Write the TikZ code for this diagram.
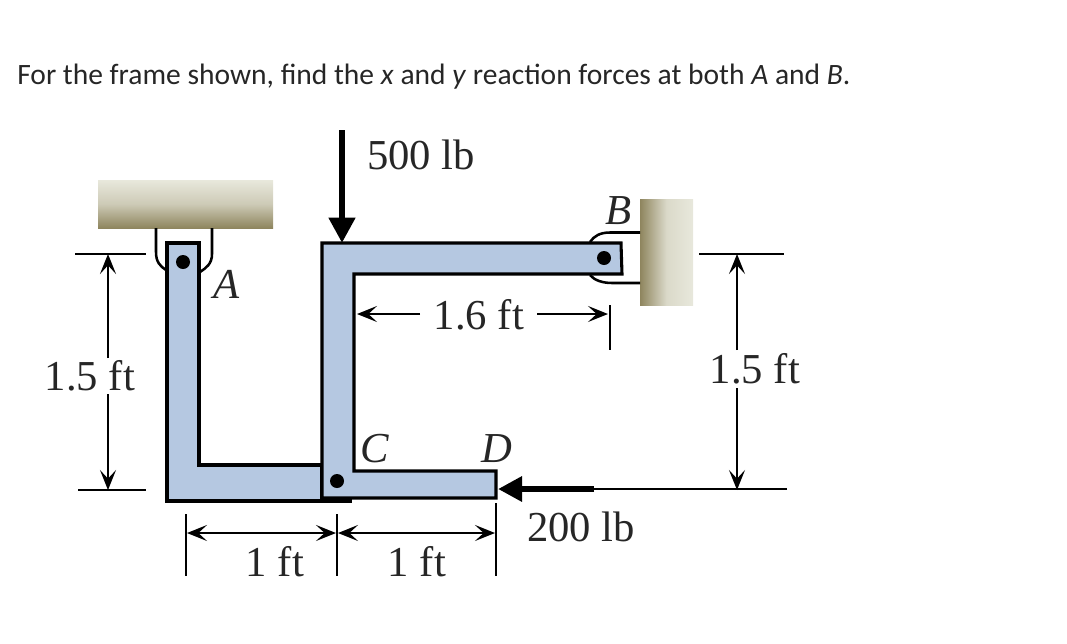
\documentclass[tikz,border=0pt]{standalone}
\usepackage{fontspec}
\setmainfont{Liberation Serif}
\newfontfamily\headfont{Carlito}
\usetikzlibrary{arrows.meta}
\definecolor{frameblue}{HTML}{B5C8E1}
\definecolor{wallpale}{HTML}{E8E8DC}
\definecolor{walldark}{HTML}{8E855E}
\tikzset{
  x=0.75pt,y=-0.75pt,
  member/.style={draw=black,line width=2.3pt,fill=frameblue,line join=miter},
  pin/.style={circle,fill=black,inner sep=0pt,minimum size=10.5pt},
  clevis/.style={line width=1.9pt},
  dimline/.style={line width=1.5pt},
  dimarrow/.style={line width=1.5pt,-{Stealth[length=15pt,width=12pt,inset=6.5pt]}},
  dimboth/.style={line width=1.5pt,{Stealth[length=15pt,width=12pt,inset=6.5pt]}-{Stealth[length=15pt,width=12pt,inset=6.5pt]}},
  label/.style={font=\fontsize{32}{32}\selectfont,inner sep=0pt,text=black!85},
  pointlabel/.style={font=\itshape\fontsize{32}{32}\selectfont,inner sep=0pt,text=black!85}
}
\begin{document}
\begin{tikzpicture}
\useasboundingbox (0,0) rectangle (1067,643);
\node[anchor=west,inner sep=0pt,font=\headfont\fontsize{22.15}{26}\selectfont,text=black!85] (title) at (17,77)
  {For the frame shown, find the \textit{x} and \textit{y} reaction forces at both \textit{A} and \textit{B}.};
% supports
\shade[top color=wallpale,bottom color=walldark,middle color=wallpale!70!walldark] (98,180) rectangle (273,228);
\shade[left color=walldark,right color=wallpale,middle color=wallpale!85!walldark] (640,199) rectangle (693,305);
% clevises
\draw[clevis] (156,228) -- (156,252) .. controls (156,262) and (160,266) .. (166,270);
\draw[clevis] (212,228) -- (212,254) .. controls (212,264) and (206,268) .. (200,272);
\draw[clevis] (640,232.5) -- (610,232.5) .. controls (600,232.5) and (594,236) .. (590,242);
\draw[clevis] (640,283) -- (612,283) .. controls (602,283) and (594,280) .. (590,275);
% left member
\draw[member] (167,243) -- (199,243) -- (199,465) -- (322,465) -- (322,501) -- (167,501) -- cycle;
% right member
\draw[line width=3pt] (322,500.5) -- (352,500.5);
\draw[member] (322,243) -- (621,243) -- (622,274) -- (354,274) -- (354,471) -- (496,471) -- (496,498) -- (322,498) -- cycle;
% pins
\node[pin] (pinA) at (183,262) {};
\node[pin] (pinB) at (604,258) {};
\node[pin] (pinC) at (337,481) {};
% point labels
\node[pointlabel] (lblA) at (227,284) {A};
\node[pointlabel] (lblB) at (619,211) {B};
\node[pointlabel] (lblC) at (375,449) {C};
\node[pointlabel] (lblD) at (497,449) {D};
% 500 lb load
\coordinate (loadTop) at (342,130);
\coordinate (loadTip) at (342,243);
\draw[line width=5.2pt,-{Triangle[length=19pt,width=19pt]}] (loadTop) -- (loadTip);
\node[label] (lbl500) at (421,155) {500 lb};
% 200 lb load
\coordinate (forceEnd) at (787,489);
\coordinate (forceThick) at (594,489);
\coordinate (forceTip) at (498,489);
\draw[line width=1.6pt] (forceEnd) -- (forceThick);
\draw[line width=5pt,-{Triangle[length=18pt,width=18pt]}] (forceThick) -- (forceTip);
\node[label] (lbl200) at (581,527) {200 lb};
% left 1.5 ft
\coordinate (lt1) at (75,254); \coordinate (lt2) at (146,254);
\coordinate (lb1) at (78,490); \coordinate (lb2) at (146,490);
\coordinate (la1) at (108,254); \coordinate (la2) at (108,490);
\coordinate (la3) at (108,358); \coordinate (la4) at (108,394);
\draw[dimline] (lt1) -- (lt2);
\draw[dimline] (lb1) -- (lb2);
\draw[dimarrow] (la3) -- (la1);
\draw[dimarrow] (la4) -- (la2);
\node[label] (lblLeft) at (90,376) {1.5 ft};
% right 1.5 ft
\coordinate (rt1) at (699,254); \coordinate (rt2) at (784,254);
\coordinate (ra1) at (737,254); \coordinate (ra2) at (737,490);
\coordinate (ra3) at (737,350); \coordinate (ra4) at (737,388);
\draw[dimline] (rt1) -- (rt2);
\draw[dimarrow] (ra3) -- (ra1);
\draw[dimarrow] (ra4) -- (ra2);
\node[label] (lblRight) at (755,369) {1.5 ft};
% 1.6 ft
\coordinate (t1) at (610,305); \coordinate (t2) at (610,350);
\coordinate (m1) at (420,314); \coordinate (m2) at (357,314);
\coordinate (m3) at (537,314); \coordinate (m4) at (608,314);
\draw[dimline] (t1) -- (t2);
\draw[dimarrow] (m1) -- (m2);
\draw[dimarrow] (m3) -- (m4);
\node[label] (lbl16) at (479,315) {1.6 ft};
% bottom dimensions
\coordinate (b1a) at (186,514); \coordinate (b1b) at (186,576);
\coordinate (b2a) at (337,514); \coordinate (b2b) at (337,576);
\coordinate (b3a) at (496,503); \coordinate (b3b) at (496,576);
\coordinate (d1) at (187,533); \coordinate (d2) at (336,533);
\coordinate (d3) at (338,533); \coordinate (d4) at (495,533);
\draw[dimline] (b1a) -- (b1b);
\draw[dimline] (b2a) -- (b2b);
\draw[dimline] (b3a) -- (b3b);
\draw[dimboth] (d1) -- (d2);
\draw[dimboth] (d3) -- (d4);
\node[label] (lbl1a) at (275,562) {1 ft};
\node[label] (lbl1b) at (417,562) {1 ft};
\end{tikzpicture}
\end{document}
